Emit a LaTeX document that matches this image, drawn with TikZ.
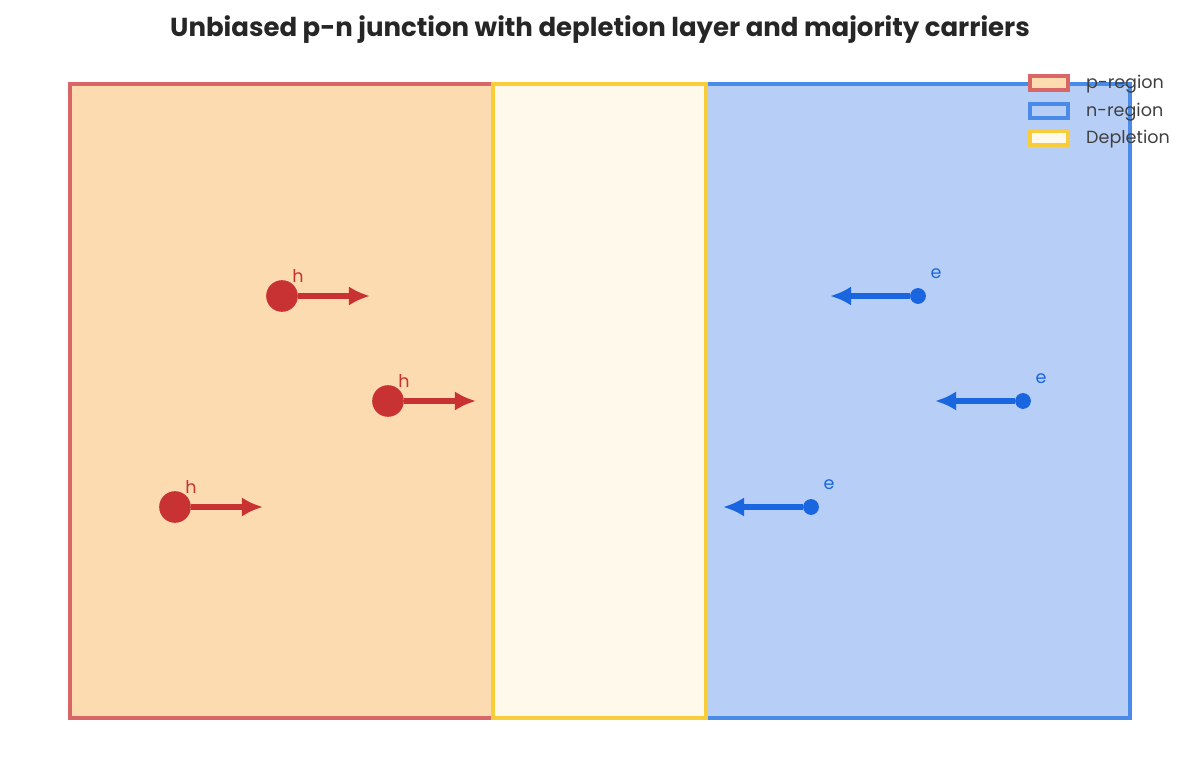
\documentclass[tikz,border=0pt]{standalone}
\usepackage{fontspec}
\setmainfont{Poppins}
\usetikzlibrary{arrows.meta,positioning}
\definecolor{pfill}{HTML}{FDDBB0}
\definecolor{pline}{HTML}{D96666}
\definecolor{dfill}{HTML}{FEF9EA}
\definecolor{dline}{HTML}{F9CC3A}
\definecolor{nfill}{HTML}{B7CFF7}
\definecolor{nline}{HTML}{4A8BEA}
\definecolor{hole}{HTML}{C83232}
\definecolor{elec}{HTML}{1A66E0}
\tikzset{
  region/.style={line width=2.4pt},
  hdot/.style={circle,fill=hole,inner sep=0pt,minimum size=18pt},
  edot/.style={circle,fill=elec,inner sep=0pt,minimum size=9pt},
  harrow/.style={hole,line width=3pt,-{Latex[length=12pt,width=11pt]}},
  earrow/.style={elec,line width=3pt,-{Latex[length=12pt,width=11pt]}},
  swatch/.style={line width=2pt},
  legtext/.style={anchor=west,font=\fontsize{10}{12}\selectfont,text=black!75}
}
\begin{document}
\begin{tikzpicture}[x=0.02cm,y=-0.02cm]
\useasboundingbox (0,0) rectangle (1200,763);

\node[font=\bfseries\fontsize{14.8}{18}\selectfont,text=black!85] (title) at (600,30) {Unbiased p-n junction with depletion layer and majority carriers};

% regions
\draw[region,draw=pline,fill=pfill] (70,84) rectangle (493,718);
\draw[region,draw=nline,fill=nfill] (706,84) rectangle (1130,718);
\draw[region,draw=dline,fill=dfill] (493,84) rectangle (706,718);

% holes
\foreach \x/\y [count=\i] in {282/296,388/401,175/507}
  {
    \node[hdot] (h\i) at (\x,\y) {};
    \coordinate (ht\i) at (\x+88,\y);
    \draw[harrow] (h\i) -- (ht\i);
    \node[text=hole,font=\fontsize{10}{12}\selectfont] at (\x+16,\y-20) {h};
  }

% electrons
\foreach \x/\y [count=\i] in {918/296,1023/401,811/507}
  {
    \node[edot] (e\i) at (\x,\y) {};
    \coordinate (et\i) at (\x-88,\y);
    \draw[earrow] (e\i) -- (et\i);
    \node[text=elec,font=\fontsize{10}{12}\selectfont] at (\x+18,\y-22) {e};
  }

% legend
\draw[swatch,draw=pline,fill=pfill] (1030,76) rectangle (1068,90);
\draw[swatch,draw=nline,fill=nfill] (1030,104) rectangle (1068,118);
\draw[swatch,draw=dline,fill=dfill] (1030,131) rectangle (1068,145);
\node[legtext] (lp) at (1080,84) {p-region};
\node[legtext] (ln) at (1080,112) {n-region};
\node[legtext] (ld) at (1080,139) {Depletion};
\end{tikzpicture}
\end{document}
